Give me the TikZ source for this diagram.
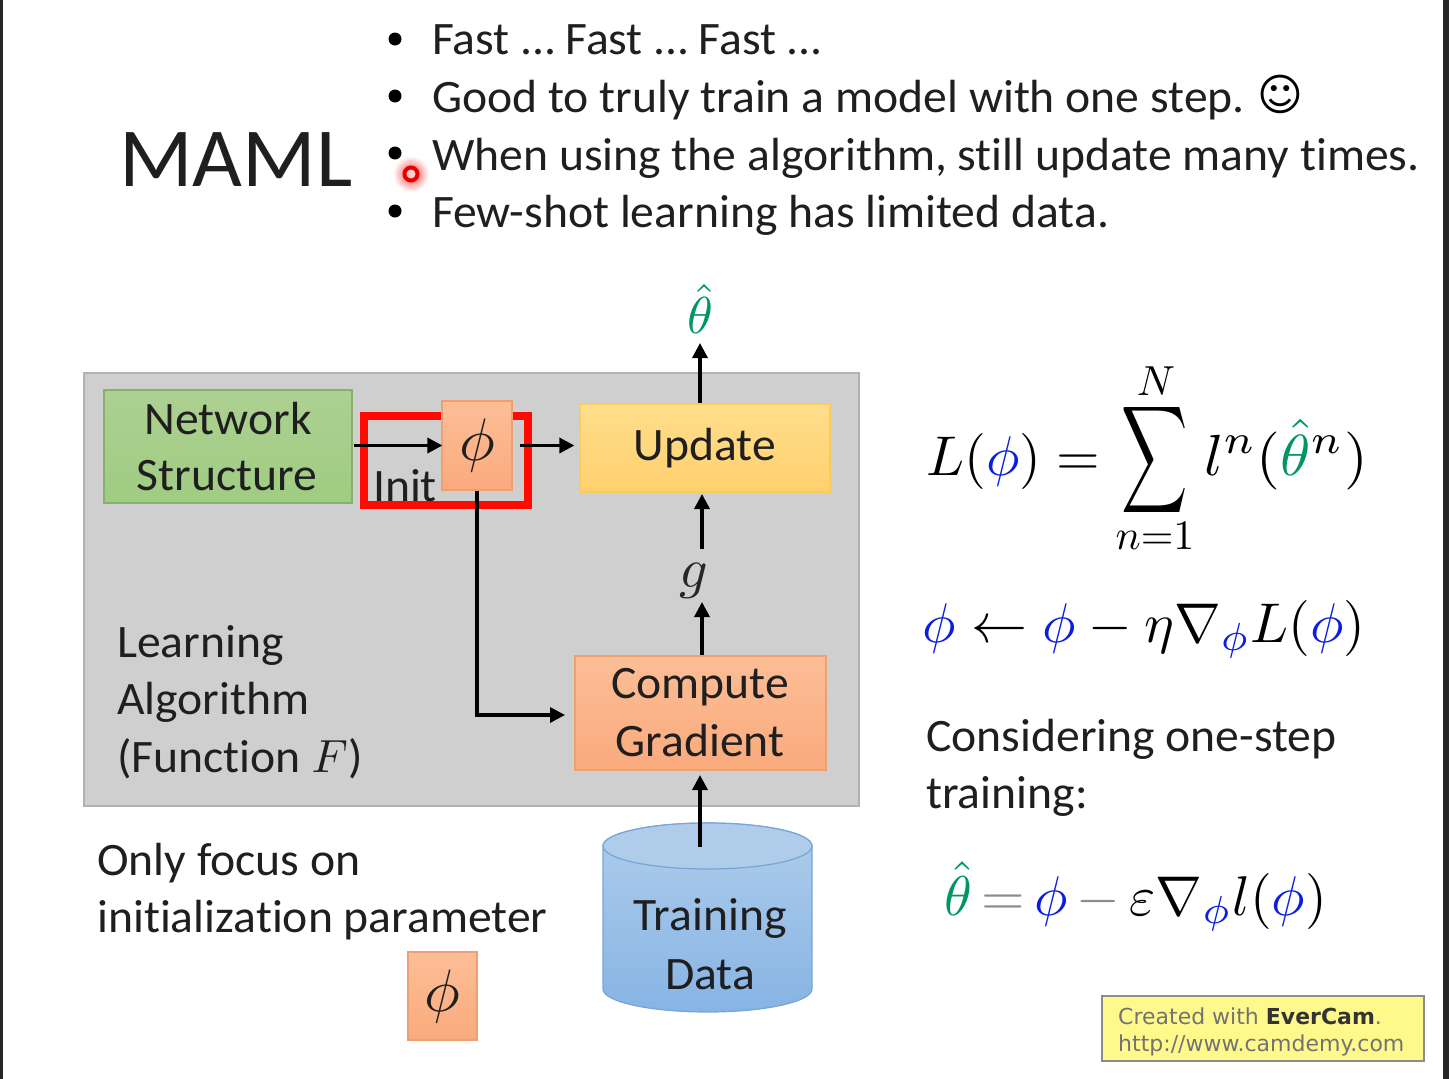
\documentclass[tikz,border=0pt]{standalone}
\usepackage{fontspec}
\setmainfont[Ligatures=NoCommon,FakeStretch=1.025]{Carlito}
\newfontfamily\djv{DejaVu Sans}
\usetikzlibrary{arrows.meta,shapes.geometric}
\definecolor{grn}{RGB}{0,150,100}
\definecolor{blu}{RGB}{10,30,225}
\definecolor{orgA}{RGB}{252,190,150}
\definecolor{orgB}{RGB}{250,170,125}
\definecolor{orgE}{RGB}{240,160,110}
\definecolor{yelA}{RGB}{255,222,140}
\definecolor{yelB}{RGB}{255,208,110}
\definecolor{yelE}{RGB}{250,205,90}
\definecolor{grA}{RGB}{172,208,145}
\definecolor{grB}{RGB}{160,204,130}
\definecolor{grE}{RGB}{135,175,110}
\definecolor{cyA}{RGB}{175,205,235}
\definecolor{cyB}{RGB}{135,180,228}
\definecolor{cyE}{RGB}{120,165,215}
\newcommand{\fsz}[1]{\fontsize{#1}{#1}\selectfont}
\newcommand{\mth}[2]{\scalebox{#1}{\normalsize$#2$}}
\newcommand{\bl}{\textcolor{blu}{\phi}}
\newcommand{\gt}{\textcolor{grn}{\hat\theta}}
\tikzset{
 x=1pt,y=-1pt,
 txt/.style={inner sep=0pt,font=\fsz{46.5},text=black!88},
 ltxt/.style={txt,anchor=base west},
 mathn/.style={inner sep=0pt,anchor=base west},
 boxn/.style={inner sep=0pt,align=center,font=\fsz{46.5},text=black!88},
 greenbox/.style={boxn,draw=grE,line width=1.2pt,top color=grA,bottom color=grB},
 orangebox/.style={boxn,draw=orgE,line width=1.2pt,top color=orgA,bottom color=orgB},
 yellowbox/.style={boxn,draw=yelE,line width=1.2pt,top color=yelA,bottom color=yelB},
 arr/.style={line width=3.4pt,draw=black,-{Triangle[length=15pt,width=15pt]}},
}
\begin{document}
\begin{tikzpicture}
\useasboundingbox (0,0) rectangle (1449,1079);
\fill[white] (0,0) rectangle (1449,1079);
\fill[black!85] (0,0) rectangle (3,1079);
\fill[black!85] (1443,0) rectangle (1449,1079);

% title and bullets
\node[ltxt,font=\fsz{84}] (title) at (119,186) {MAML};
\foreach \yy/\nm in {39/a,96/b,153/c,211/d}
  \fill[black] (395,\yy) circle (6.5);
\node[ltxt] (la) at (432,54) {Fast ...\hspace{-5.5pt} Fast ...\hspace{-5.5pt} Fast ...};
\node[ltxt] (lb) at (432,112) {Good to truly train a model with one step.};
\node[inner sep=0pt,font=\djv\fsz{44}] (smile) at (1280,94) {☺};
\node[ltxt] (lc) at (432,170) {When using the algorithm, still update many times.};
\node[ltxt] (ld) at (432,227) {Few-shot learning has limited data.};
% pointer
\shade[inner color=red!75,outer color=white] (411,174) circle (18);
\draw[red!90!black,line width=4pt,fill=white!80!red] (411,174) circle (6.5);

% grey panel
\node[draw=black!30,fill=black!19,line width=1.2pt,minimum width=775pt,minimum height=433pt,inner sep=0pt] (panel) at (471.5,589.5) {};

\node[greenbox,minimum width=248pt,minimum height=113pt] (net) at (228,446.5) {};
\node[txt] at (228,419) {Network};
\node[txt] at (227,476) {Structure};

\node[yellowbox,minimum width=250pt,minimum height=88pt] (update) at (705,448) {\raisebox{-2pt}{Update}};
\node[orangebox,minimum width=251pt,minimum height=114pt] (grad) at (700.5,713) {};
\node[txt] at (700,687) {Compute};
\node[txt] at (700,741) {Gradient};

% red frame
\draw[red!92!orange,line width=8pt] (364,416) rectangle (528,505);
\node[txt] (init) at (405,486) {Init};

\node[orangebox,minimum width=70pt,minimum height=89pt] (phi) at (477,445.5) {\mth{6}{\phi}};

% learning algorithm text
\node[ltxt] (la1) at (117,657) {Learning};
\node[ltxt] (la2) at (117,714) {Algorithm};
\node[ltxt] (la3) at (117,772) {(Function \mth{4.65}{F})};

% outside text
\node[ltxt] (of1) at (97,875) {Only focus on};
\node[ltxt] (of2) at (97,932) {initialization parameter};
\node[orangebox,minimum width=69pt,minimum height=88pt] (phib) at (442.5,996) {\mth{6}{\phi}};

% cylinder
\draw[draw=cyE,line width=1.2pt,top color=cyA,bottom color=cyB] (603,846) -- (603,989) arc[x radius=104.5,y radius=23,start angle=180,end angle=0] -- (812,846) arc[x radius=104.5,y radius=23,start angle=0,end angle=-180] -- cycle;
\draw[draw=cyE,line width=1.2pt,fill=cyA] (707.5,846) ellipse[x radius=104.5,y radius=23];
\node[txt] (train) at (710,918) {Training};
\node[txt] (dataT) at (710,975) {Data};

% labels on connectors
\node[inner sep=0pt,text=grn] (thetahat) at (700,309) {\mth{5.2}{\hat\theta}};
\node[inner sep=0pt,text=black!85] (gg) at (694,581) {\mth{5.6}{g}};
\coordinate (top) at (700,343);
\coordinate (gup) at (702,549);
\coordinate (gdn) at (702,655);
\coordinate (gmid) at (702,602);
\coordinate (c1) at (700,847);
\coordinate (c2) at (700,775);
\coordinate (c3) at (565,715);

% connectors
\draw[arr] (c1) -- (c2);
\draw[arr] (gdn) -- (gmid);
\draw[arr] (gup) -- (702,494);
\draw[arr] (update.north -| top) -- (top);
\draw[arr] ([xshift=1pt]net.east |- phi.west) -- ([xshift=1pt]phi.west);
\draw[arr] ([xshift=7pt]phi.east) -- ([xshift=-5pt]update.west |- phi.east);
\draw[arr] (phi.south) -- (phi.south |- c3) -- (c3);

% right formulas
\node[mathn] (f1) at (926,475) {\mth{5.6}{L(\bl)=}};
\node[inner sep=0pt] (sum) at (1155,460) {\scalebox{4.6}[7.5]{\normalsize$\displaystyle\sum$}};
\node[inner sep=0pt] (supN) at (1156,381) {\mth{4.2}{N}};
\node[inner sep=0pt] (subn) at (1155,536) {\mth{4.2}{n{=}1}};
\node[mathn] (f1b) at (1204,475) {\scalebox{6.1}[5.8]{\normalsize$l^n(\gt{}^n)$}};

\node[mathn] (f2) at (922,642) {\mth{5.6}{\bl\leftarrow\bl-\eta\nabla_{\bl}L(\bl)}};

\node[ltxt] (c1t) at (926,751) {Considering one-step};
\node[ltxt] (c2t) at (926,808) {training:};

\node[mathn] (f3) at (944,915) {\mth{5.6}{\gt\,\textcolor{black!45}{=}\,\bl\,\textcolor{black!45}{-}\,\varepsilon\nabla_{\bl}l(\bl)}};

% watermark
\node[draw=black!45,fill=yellow!45,line width=1.5pt,minimum width=322pt,minimum height=65pt,inner sep=0pt] (ev) at (1263,1028.5) {};
\node[inner sep=0pt,anchor=base west,font=\djv\fsz{22},text=black!55] (ev1) at (1118,1024) {Created with \textbf{\textcolor{black!80}{EverCam}}.};
\node[inner sep=0pt,anchor=base west,font=\djv\fsz{22},text=black!55] (ev2) at (1118,1051) {http://www.camdemy.com};
\end{tikzpicture}
\end{document}
